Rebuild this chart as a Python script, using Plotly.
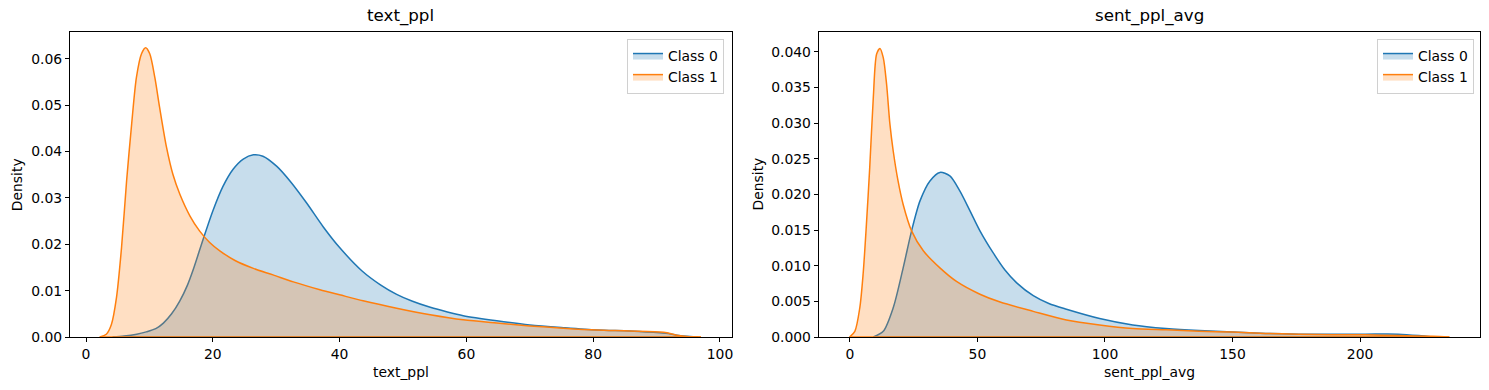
import plotly.graph_objects as go

# ---- Data ----
# Left panel: text_ppl
text_c0_x = [4.2, 6.0, 8.0, 9.5, 11.0, 12.2, 13.5, 14.8, 16.0, 16.9, 18.5, 20.0, 21.6, 23.2, 24.8, 26.4, 27.9,
             30.1, 32.2, 34.8, 37.4, 40.0, 43.5, 46.5, 49.0, 51.5, 54.3, 57.0, 59.5, 64.8, 70.0, 75.3, 80.6,
             85.8, 89.5, 91.5, 93.2, 95.3, 96.5]
text_c0_y = [0.0, 0.0002, 0.0006, 0.0011, 0.0018, 0.0030, 0.0050, 0.0078, 0.0112, 0.0145, 0.0212, 0.0272, 0.0325,
             0.0362, 0.0384, 0.0393, 0.0390, 0.0368, 0.0336, 0.0289, 0.0238, 0.0193, 0.0143, 0.0112, 0.0092, 0.0077,
             0.0064, 0.0054, 0.0046, 0.0035, 0.0026, 0.0020, 0.0015, 0.0013, 0.0010, 0.0008, 0.0004, 0.0001, 0.0]

text_c1_x = [2.16, 3.2, 4.0, 4.8, 5.6, 6.4, 7.2, 7.95, 8.75, 9.4, 10.05, 10.85, 11.6, 12.7, 13.7, 14.8, 16.4,
             17.9, 19.5, 21.1, 23.5, 26.4, 29.5, 32.7, 36.9, 40.0, 43.7, 49.0, 54.3, 59.5, 64.8, 70.0, 75.3,
             80.6, 85.8, 91.1, 93.2, 94.8, 97.0]
text_c1_y = [0.0, 0.0006, 0.0027, 0.0085, 0.0193, 0.0337, 0.0460, 0.0560, 0.0611, 0.0624, 0.0611, 0.0560, 0.0496,
             0.0409, 0.0351, 0.0308, 0.0261, 0.0229, 0.0204, 0.0186, 0.0165, 0.0148, 0.0134, 0.0119, 0.0102, 0.0091,
             0.0078, 0.0062, 0.0048, 0.0037, 0.0030, 0.0024, 0.0019, 0.0015, 0.0013, 0.0010, 0.0004, 0.0001, 0.0]

# Right panel: sent_ppl_avg
sent_c0_x = [9.2, 13.1, 17.0, 20.9, 24.2, 27.5, 31.4, 35.3, 39.2, 43.1, 47.1, 51.0, 56.2, 60.8, 65.4, 71.9,
             78.0, 84.9, 97.9, 110.9, 123.9, 136.9, 150.0, 163.0, 176.0, 189.0, 202.0, 215.0, 223.0, 228.5]
sent_c0_y = [0.0, 0.0008, 0.0041, 0.0097, 0.0149, 0.0191, 0.0219, 0.0231, 0.0226, 0.0205, 0.0177, 0.0149, 0.0118,
             0.0094, 0.0076, 0.0058, 0.0047, 0.0039, 0.0026, 0.0017, 0.0012, 0.0009, 0.0007, 0.0005, 0.0004, 0.0004,
             0.0004, 0.0004, 0.0002, 0.0]

sent_c1_x = [-0.1, 1.96, 3.9, 5.2, 6.5, 7.8, 9.2, 10.5, 11.8, 13.1, 14.4, 15.7, 17.0, 18.9, 20.9, 24.2, 28.8,
             35.3, 41.8, 51.0, 58.9, 71.9, 84.9, 97.9, 110.9, 123.9, 136.9, 150.0, 163.0, 176.0, 189.0, 202.0,
             215.0, 228.5, 235.0]
sent_c1_y = [0.0, 0.0008, 0.0041, 0.0088, 0.0158, 0.0238, 0.0336, 0.0397, 0.0405, 0.0392, 0.0355, 0.0299, 0.0261,
             0.0219, 0.0186, 0.0149, 0.0121, 0.0097, 0.0078, 0.0060, 0.0049, 0.0036, 0.0024, 0.0017, 0.0012, 0.0010,
             0.0008, 0.0007, 0.0005, 0.0004, 0.0003, 0.0003, 0.0002, 0.0001, 0.0]

class_names = ["Class 0", "Class 1"]
panel_titles = ["text_ppl", "sent_ppl_avg"]
x_titles = ["text_ppl", "sent_ppl_avg"]
y_title = "Density"

BLUE = "#1f77b4"
ORANGE = "#ff7f0e"
FILLS = ["rgba(31,119,180,0.25)", "rgba(255,127,14,0.25)"]
FONT = "DejaVu Sans, Liberation Sans, sans-serif"
TICK = 13.9

fig = go.Figure()

panels = [
    ("x", "y", "legend", [(text_c0_x, text_c0_y), (text_c1_x, text_c1_y)]),
    ("x2", "y2", "legend2", [(sent_c0_x, sent_c0_y), (sent_c1_x, sent_c1_y)]),
]

for xa, ya, lg, series in panels:
    for i, (xs, ys) in enumerate(series):
        col = [BLUE, ORANGE][i]
        fig.add_trace(go.Scatter(
            x=xs, y=ys, mode="lines", fill="tozeroy", fillcolor=FILLS[i],
            line=dict(color=col, width=1.5, shape="spline", smoothing=0.8),
            name=class_names[i], xaxis=xa, yaxis=ya, legend=lg, showlegend=True,
        ))
        # baseline edge of the filled polygon
        fig.add_trace(go.Scatter(
            x=[xs[0], xs[-1]], y=[0, 0], mode="lines",
            line=dict(color=col, width=1.5), xaxis=xa, yaxis=ya,
            showlegend=False, hoverinfo="skip",
        ))

axis_common = dict(
    showline=True, linecolor="black", linewidth=1, mirror=True,
    ticks="outside", ticklen=4, tickwidth=1, tickcolor="black",
    showgrid=False, zeroline=False, automargin=False,
    tickfont=dict(family=FONT, size=TICK, color="black"),
)

D1 = [0.0, 0.4695]
D2 = [0.531, 1.0]
L, R, T, B = 70, 9, 32, 53
PW = 1489 - L - R
PH = 390 - T - B


def px2paper_x(px):
    return (px - L) / PW


def px2paper_y(py):
    return (390 - B - py) / PH


legend_common = dict(y=px2paper_y(39), xanchor="right", yanchor="top", bgcolor="rgba(255,255,255,0.8)",
                     bordercolor="#d0d0d0", borderwidth=1, font=dict(family=FONT, size=TICK),
                     tracegroupgap=2)

annos = []
for k, dom in enumerate([D1, D2]):
    annos.append(dict(text=panel_titles[k], x=(dom[0] + dom[1]) / 2, y=1, xref="paper", yref="paper",
                      xanchor="center", yanchor="bottom", yshift=4, showarrow=False,
                      font=dict(family=FONT, size=16.7, color="black")))
    annos.append(dict(text=x_titles[k], x=(dom[0] + dom[1]) / 2, y=px2paper_y(372), xref="paper", yref="paper",
                      xanchor="center", yanchor="middle", showarrow=False,
                      font=dict(family=FONT, size=TICK, color="black")))
annos.append(dict(text=y_title, x=px2paper_x(16.7), y=0.5, xref="paper", yref="paper", textangle=-90,
                  xanchor="center", yanchor="middle", showarrow=False,
                  font=dict(family=FONT, size=TICK, color="black")))
annos.append(dict(text=y_title, x=px2paper_x(757), y=0.5, xref="paper", yref="paper", textangle=-90,
                  xanchor="center", yanchor="middle", showarrow=False,
                  font=dict(family=FONT, size=TICK, color="black")))

fig.update_layout(
    width=1489, height=390,
    paper_bgcolor="white", plot_bgcolor="white",
    margin=dict(l=L, r=R, t=T, b=B),
    font=dict(family=FONT, size=TICK, color="black"),
    xaxis=dict(domain=D1, range=[-2.53, 101.9], tickvals=[0, 20, 40, 60, 80, 100], **axis_common),
    yaxis=dict(range=[0, 0.0658], tickvals=[0, 0.01, 0.02, 0.03, 0.04, 0.05, 0.06], tickformat=".2f",
               **axis_common),
    xaxis2=dict(domain=D2, range=[-12.2, 247], tickvals=[0, 50, 100, 150, 200], anchor="y2", **axis_common),
    yaxis2=dict(range=[0, 0.0428], tickvals=[0, 0.005, 0.01, 0.015, 0.02, 0.025, 0.03, 0.035, 0.04],
                tickformat=".3f", anchor="x2", **axis_common),
    legend=dict(x=px2paper_x(724), **legend_common),
    legend2=dict(x=px2paper_x(1474), **legend_common),
    annotations=annos,
)

fig.write_html("out.html", config={"displayModeBar": False},
               post_script="document.body.style.margin='0';document.body.style.overflow='hidden';")
